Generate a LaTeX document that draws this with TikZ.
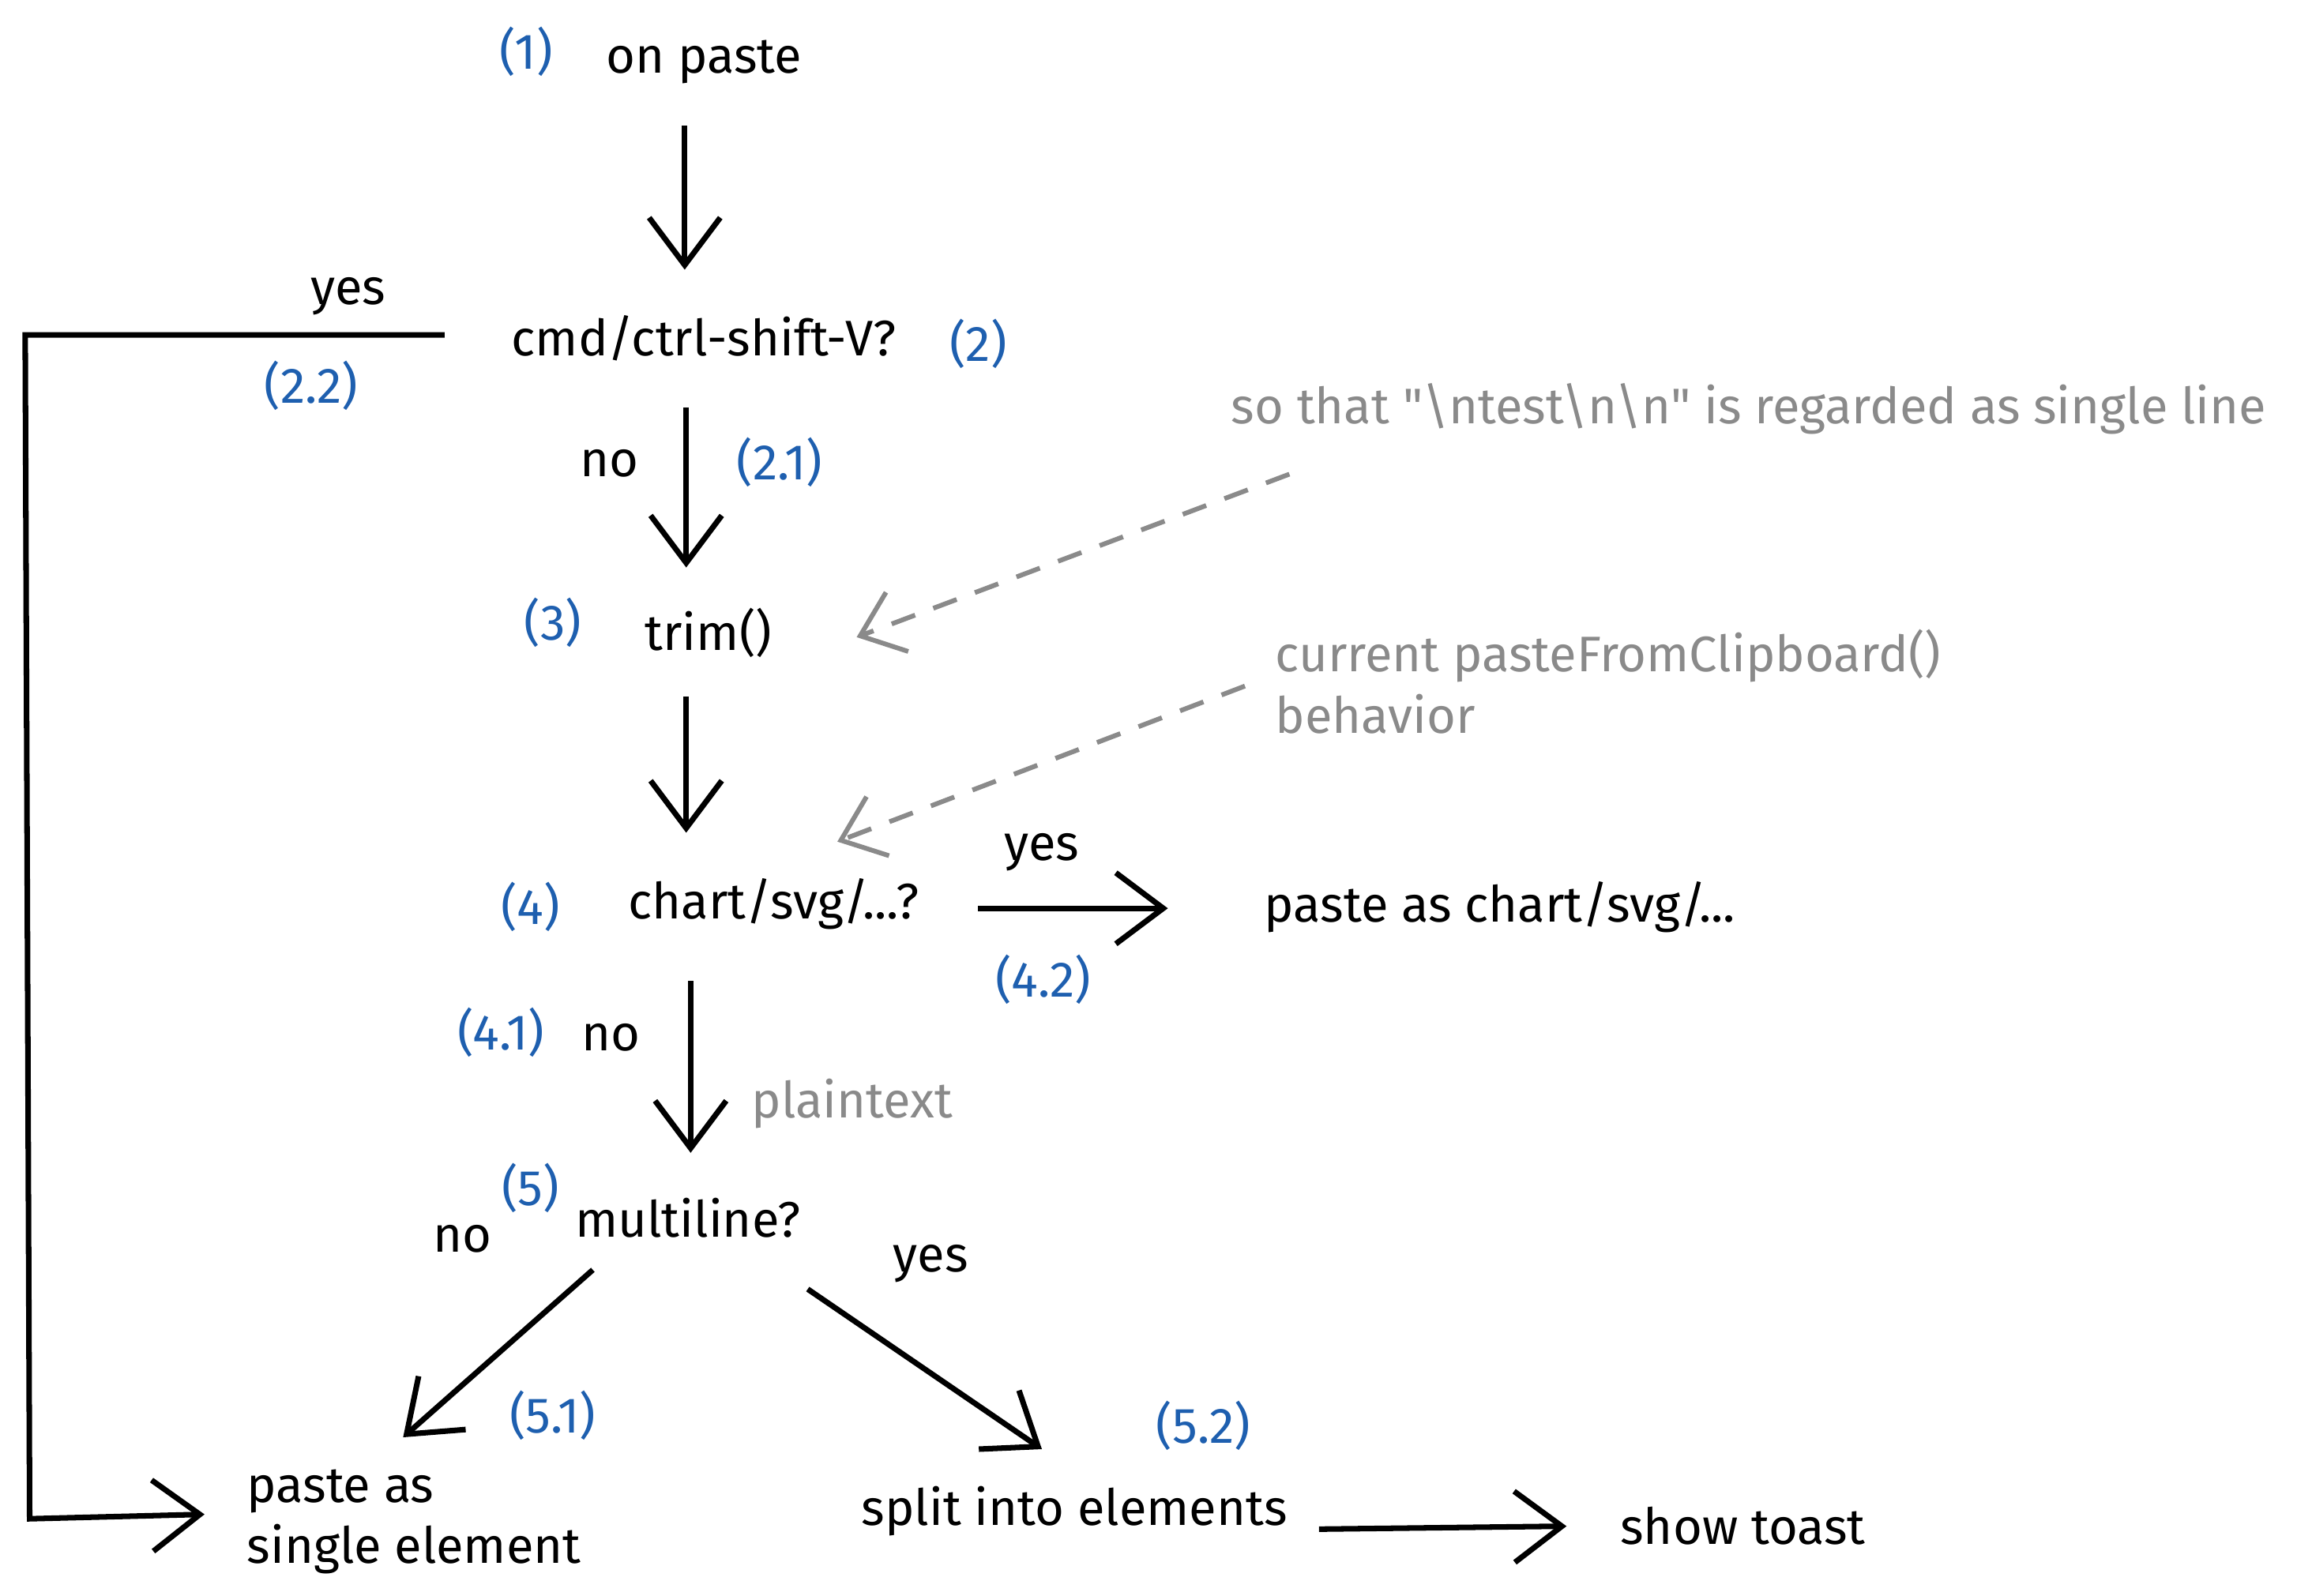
\documentclass[tikz,border=0pt]{standalone}
\usepackage{fontspec}
\setmainfont{Fira Sans}
\usetikzlibrary{arrows.meta}
\definecolor{numblue}{HTML}{1E5FAF}
\definecolor{notegray}{HTML}{8A8A8A}
\begin{document}
\begin{tikzpicture}[x=0.01876cm,y=-0.01876cm,
    every node/.style={font=\fontsize{18}{22}\selectfont},
    num/.style={text=numblue},
    note/.style={text=notegray},
    flow/.style={line width=2pt,-{Straight Barb[length=6mm,width=9mm,line width=2pt]}},
    hint/.style={line width=1.7pt,notegray,dash pattern=on 9pt off 7pt,-{Straight Barb[length=5mm,width=8mm,line width=1.7pt]}}]
\useasboundingbox (0,0) rectangle (1560,1077);

\node[num] (n1) at (355,35) {(1)};
\node (paste) at (475,42) {on paste};
\node (shift) at (475,228) {cmd/ctrl-shift-V?};
\node[num] (n2) at (660,232) {(2)};
\node (yes1) at (235,200) {yes};
\node[num] (n22) at (210,260) {(2.2)};
\node (no1) at (411,313) {no};
\node[num] (n21) at (526,312) {(2.1)};
\node[num] (n3) at (373,420) {(3)};
\node (trim) at (478,427) {trim()};
\node[note] (note1) at (1180,276) {so that \textquotedbl\textbackslash ntest\textbackslash n\textbackslash n\textquotedbl\ is regarded as single line};
\node[note,align=left,anchor=west] (note2) at (854,460) {current pasteFromClipboard()\\behavior};
\node[num] (n4) at (358,612) {(4)};
\node (chart) at (522,610) {chart/svg/...?};
\node (yes2) at (703,575) {yes};
\node[num] (n42) at (704,661) {(4.2)};
\node (aschart) at (1012,612) {paste as chart/svg/...};
\node[num] (n41) at (338,697) {(4.1)};
\node (no2) at (412,700) {no};
\node[note] (plain) at (575,745) {plaintext};
\node[num] (n5) at (358,802) {(5)};
\node (multi) at (464,822) {multiline?};
\node (no3) at (312,836) {no};
\node (yes3) at (628,853) {yes};
\node[num] (n51) at (373,955) {(5.1)};
\node[num] (n52) at (812,962) {(5.2)};
\node[align=left,anchor=west] (single) at (160,1027) {paste as\\single element};
\node (split) at (725,1020) {split into elements};
\node (toast) at (1176,1030) {show toast};

\coordinate (a1) at (462,85);   \coordinate (b1) at (462,182);
\coordinate (a2) at (463,275);  \coordinate (b2) at (463,383);
\coordinate (a3) at (463,470);  \coordinate (b3) at (463,562);
\coordinate (a4) at (660,613);  \coordinate (b4) at (788,613);
\coordinate (a5) at (466,662);  \coordinate (b5) at (466,778);
\coordinate (a6) at (400,857);  \coordinate (b6) at (272,970);
\coordinate (a7) at (545,870);  \coordinate (b7) at (703,978);
\coordinate (a8) at (890,1032); \coordinate (b8) at (1057,1030);
\coordinate (y1) at (300,226);  \coordinate (y2) at (17,226);
\coordinate (y3) at (20,1025);  \coordinate (y4) at (138,1022);
\coordinate (h1) at (870,320);  \coordinate (k1) at (578,430);
\coordinate (h2) at (840,463);  \coordinate (k2) at (565,568);

\draw[flow] (a1) -- (b1);
\draw[flow] (a2) -- (b2);
\draw[flow] (a3) -- (b3);
\draw[flow] (a4) -- (b4);
\draw[flow] (a5) -- (b5);
\draw[flow] (a6) -- (b6);
\draw[flow] (a7) -- (b7);
\draw[flow] (a8) -- (b8);
\draw[flow] (y1) -- (y2) -- (y3) -- (y4);
\draw[hint] (h1) -- (k1);
\draw[hint] (h2) -- (k2);
\end{tikzpicture}
\end{document}
